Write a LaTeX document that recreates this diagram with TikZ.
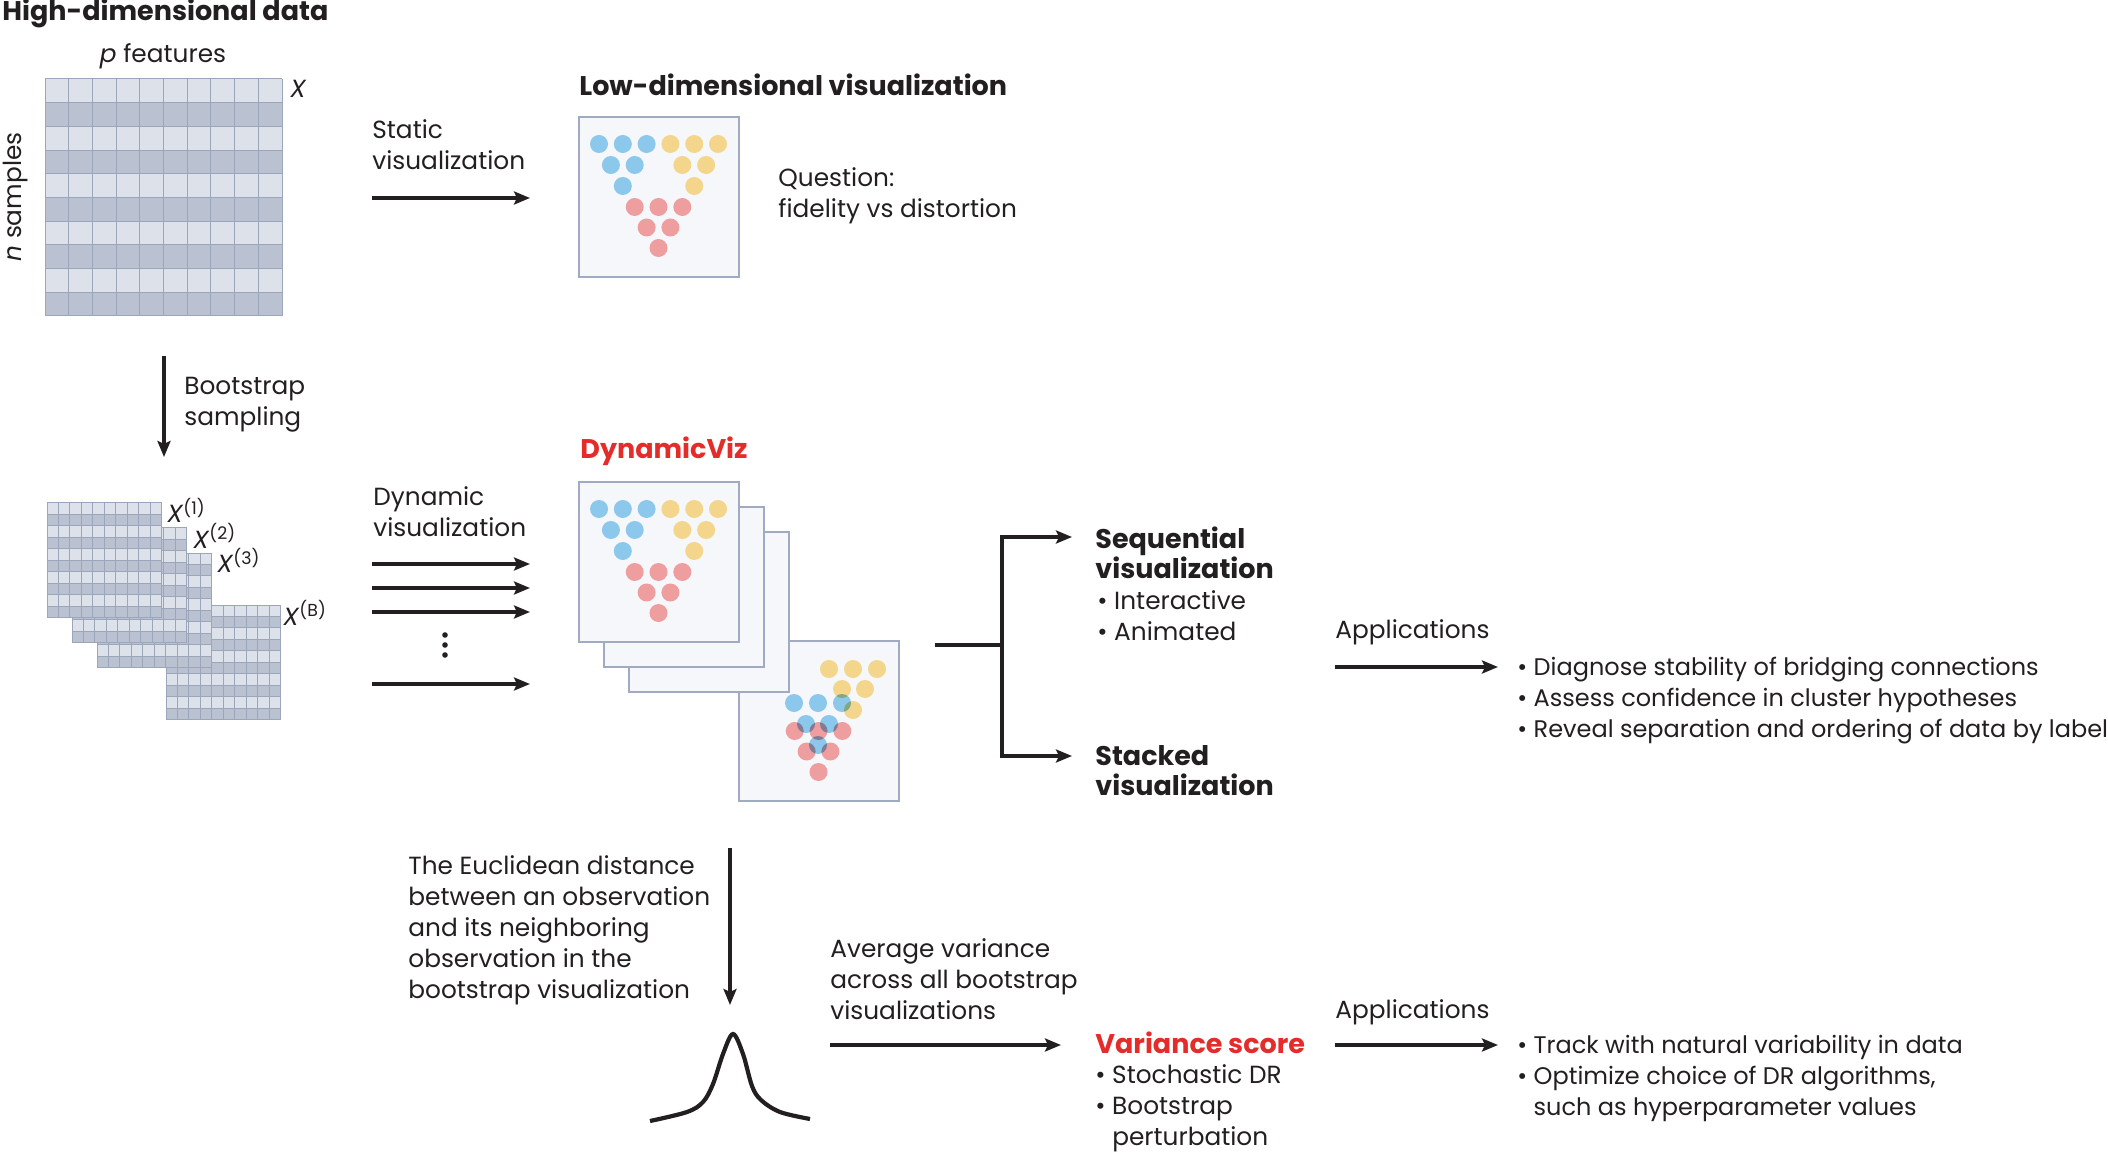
\documentclass[tikz,border=0pt]{standalone}
\usepackage{fontspec}
\setmainfont{Poppins}
\usetikzlibrary{arrows.meta}
\definecolor{ink}{HTML}{231F20}
\definecolor{vred}{HTML}{E42C2A}
\definecolor{mlight}{HTML}{DDE2EA}
\definecolor{mdark}{HTML}{BAC2D1}
\definecolor{mgrid}{HTML}{9CA6BB}
\definecolor{boxfill}{HTML}{F5F7FA}
\definecolor{boxline}{HTML}{A0AAC0}
\definecolor{dblue}{HTML}{8CC8EC}
\definecolor{dyellow}{HTML}{F3D68B}
\definecolor{dred}{HTML}{EF9EA0}
\newcommand\bodyf{\fontsize{12.4}{15.5}\selectfont}
\newcommand\listf{\fontsize{12}{15.5}\selectfont}
\newcommand\headf{\bfseries\fontsize{13.5}{15}\selectfont}
\newcommand\datamat[3]{%
  \begin{scope}[shift={(#1,#2)}]
    \fill[mlight] (0,0) rectangle (10*#3,10*#3);
    \foreach \r in {1,3,5,7,9} \fill[mdark] (0,\r*#3) rectangle (10*#3,\r*#3+#3);
    \foreach \i in {0,...,10} {
      \draw[mgrid,line width=0.5pt] (\i*#3,0) -- (\i*#3,10*#3);
      \draw[mgrid,line width=0.5pt] (0,\i*#3) -- (10*#3,\i*#3);
    }
  \end{scope}}
\newcommand\vizbox[3]{%
  \node[vbox] (#1) at (#2,#3) {};}
\newcommand\stddots[2]{%
  \begin{scope}[shift={(#1,#2)}]
    \foreach \x/\y in {21/28,44.8/28,68.6/28,32.9/49,56.7/49,44.8/70}
      \fill[dblue] (\x,\y) circle[radius=4.5pt];
    \foreach \x/\y in {92.4/28,116.2/28,140/28,104.3/49,128.1/49,116.2/70}
      \fill[dyellow] (\x,\y) circle[radius=4.5pt];
    \foreach \x/\y in {56.7/91,80.5/91,104.3/91,68.6/111.5,92.4/111.5,80.5/132}
      \fill[dred] (\x,\y) circle[radius=4.5pt];
  \end{scope}}
\tikzset{
  txt/.style={inner sep=0pt, anchor=base west, align=left, text=ink, font=\bodyf},
  lst/.style={txt, font=\listf},
  hd/.style={inner sep=0pt, anchor=base west, align=left, text=ink, font=\headf},
  arr/.style={draw=ink, line width=1.8pt, -{Stealth[length=8pt,width=6.5pt,inset=1.5pt]}},
  vbox/.style={draw=boxline, fill=boxfill, line width=0.8pt, minimum width=80pt,
    minimum height=80pt, inner sep=0pt, anchor=north west},
}
\begin{document}
\begin{tikzpicture}[x=0.5pt,y=-0.5pt]
\fill[white] (0,0) rectangle (2108,1154);
\useasboundingbox (0,0) rectangle (2108,1154);

% ---------- top left: data matrix
\node[hd] (title) at (2,21) {High-dimensional data};
\node[txt, anchor=base] (pfeat) at (163,63) {\textit{p} features};
\datamat{45}{79}{23.7}
\coordinate (matX) at (163.5,197);
\node[txt] (Xlab) at (290,98) {\textit{X}};
\node[txt, anchor=center, rotate=90] (nsamp) at (16,197) {\textit{n} samples};

% static arrow
\node[txt] (statictxt) at (372,170) {Static\\visualization};
\coordinate (sv0) at (372,198);
\coordinate (sv1) at (530,198);
\draw[arr] (sv0) -- (sv1);

% low-dim
\node[hd] (lowtitle) at (579,96) {Low-dimensional visualization};
\vizbox{low}{578}{116}
\stddots{578}{116}
\node[txt] (question) at (778,218) {Question:\\fidelity vs distortion};

% bootstrap arrow
\coordinate (bs0) at (164,356);
\coordinate (bs1) at (164,457);
\draw[arr] (bs0) -- (bs1);
\node[txt] (bstxt) at (184,426) {Bootstrap\\sampling};

% stacked matrices
\datamat{166}{605}{11.45}
\datamat{97}{553}{11.45}
\datamat{72}{528}{11.45}
\datamat{47}{503}{11.45}
\node[txt] (X1) at (167,523) {\textit{X}\textsuperscript{(1)}};
\node[txt] (X2) at (193,548) {\textit{X}\textsuperscript{(2)}};
\node[txt] (X3) at (217,573) {\textit{X}\textsuperscript{(3)}};
\node[txt] (XB) at (283,625) {\textit{X}\textsuperscript{(B)}};

% dynamic arrows
\node[txt] (dyntxt) at (373,537) {Dynamic\\visualization};
\foreach \k/\yy in {1/564,2/588,3/612,4/684} {
  \coordinate (da\k) at (372,\yy);
  \coordinate (db\k) at (530,\yy);
  \draw[arr] (da\k) -- (db\k);
}
\foreach \yy in {635,645,655} \fill[ink] (445,\yy) circle[radius=1.4pt];

% DynamicViz stack
\node[hd, text=vred] (dvtitle) at (580,459) {DynamicViz};
\vizbox{b4}{738}{640}
\begin{scope}[shift={(738,640)}, blend group=multiply]
  \foreach \x/\y in {56.7/91,80.5/91,104.3/91,68.6/111.5,92.4/111.5,80.5/132}
    \fill[dred] (\x,\y) circle[radius=4.5pt];
  \foreach \x/\y in {56/63,80/63,104/63,68/84,91/84,80/105}
    \fill[dblue] (\x,\y) circle[radius=4.5pt];
  \foreach \x/\y in {91/29,115/29,139/29,104/49,127/49,115/70}
    \fill[dyellow] (\x,\y) circle[radius=4.5pt];
\end{scope}
\vizbox{b3}{628}{531}
\vizbox{b2}{603}{506}
\vizbox{b1}{578}{481}
\stddots{578}{481}

% branch
\coordinate (br0) at (935,645);
\coordinate (brm) at (1002,645);
\coordinate (brt) at (1002,537);
\coordinate (brb) at (1002,756);
\coordinate (brt1) at (1072,537);
\coordinate (brb1) at (1072,756);
\draw[draw=ink, line width=1.8pt] (br0) -- (brm);
\draw[arr, {Stealth[length=8pt,width=6.5pt,inset=1.5pt]}-{Stealth[length=8pt,width=6.5pt,inset=1.5pt]}, line join=miter]
  (brt1) -- (brt) -- (brb) -- (brb1);

\node[hd] (seqtitle) at (1095,578) {Sequential\\visualization};
\node[txt] (seqbul) at (1097,640) {• Interactive\\• Animated};
\node[hd] (stacktitle) at (1095,795) {Stacked\\visualization};

% applications (top)
\node[txt] (app1) at (1335,638) {Applications};
\coordinate (ap1a) at (1335,667);
\coordinate (ap1b) at (1498,667);
\draw[arr] (ap1a) -- (ap1b);
\node[lst] (app1bul) at (1517,737) {• Diagnose stability of bridging connections\\• Assess confidence in cluster hypotheses\\• Reveal separation and ordering of data by label};

% euclidean
\node[txt] (eucl) at (408,998) {The Euclidean distance\\between an observation\\and its neighboring\\observation in the\\bootstrap visualization};
\coordinate (eu0) at (730,848);
\coordinate (eu1) at (730,1005);
\draw[arr] (eu0) -- (eu1);

% peak
\draw[ink, line width=2.1pt, line cap=butt] plot[smooth, tension=0.55] coordinates {
  (650,1121) (687,1112) (703,1102) (713,1084) (723,1054) (733,1034)
  (743,1054) (752,1086) (761,1100) (780,1112) (810,1119)};

% average variance
\node[txt] (avgtxt) at (830,1019) {Average variance\\across all bootstrap\\visualizations};
\coordinate (av0) at (830,1045);
\coordinate (av1) at (1061,1045);
\draw[arr] (av0) -- (av1);

\node[hd, text=vred] (vscore) at (1095,1053) {Variance score};
\node[txt] (vsbul) at (1095,1145) {• Stochastic DR\\• Bootstrap\\\hphantom{• }perturbation};

% applications (bottom)
\node[txt] (app2) at (1335,1018) {Applications};
\coordinate (ap2a) at (1335,1045);
\coordinate (ap2b) at (1498,1045);
\draw[arr] (ap2a) -- (ap2b);
\node[lst] (app2bul) at (1517,1115) {• Track with natural variability in data\\• Optimize choice of DR algorithms,\\\hphantom{• }such as hyperparameter values};
\end{tikzpicture}
\end{document}
